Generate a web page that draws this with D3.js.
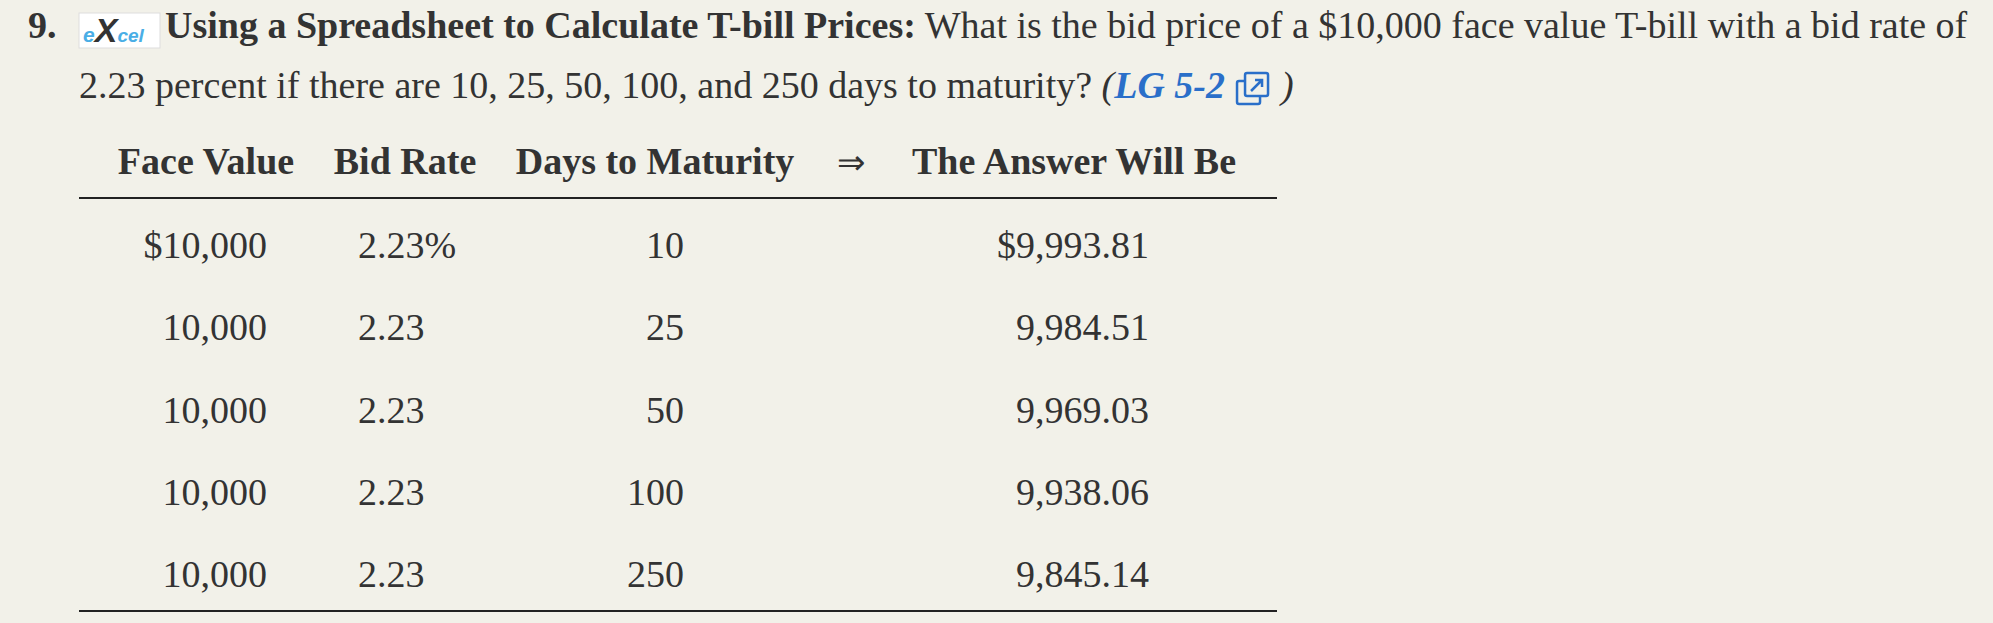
<!DOCTYPE html><html><head><meta charset="utf-8">
<script src="https://cdn.jsdelivr.net/npm/d3@7"></script>
<style>body{margin:0;background:#f2f1e9}svg{display:block}text{font-family:"Liberation Serif","Times New Roman",serif;fill:#333}</style></head><body>
<script>
const headers=["Face Value","Bid Rate","Days to Maturity","⇒","The Answer Will Be"];
const faceValues=["$10,000","10,000","10,000","10,000","10,000"];
const bidRates=["2.23%","2.23","2.23","2.23","2.23"];
const days=["10","25","50","100","250"];
const answers=["$9,993.81","9,984.51","9,969.03","9,938.06","9,845.14"];
const W=1993,H=623,FS=38;
const svg=d3.select("body").append("svg").attr("width",W).attr("height",H);
svg.append("rect").attr("width",W).attr("height",H).attr("fill","#f2f1e9");
svg.append("text").attr("x",28).attr("y",38).attr("font-size",FS).attr("font-weight","bold").text("9.");
const ic=svg.append("g").attr("transform","translate(79,13)");
ic.append("rect").attr("width",81).attr("height",35).attr("fill","#fff").attr("stroke","#ddd");
const it=ic.append("text").attr("x",4).attr("y",29).style("font-family","'Liberation Sans',Arial,sans-serif").attr("font-style","italic").attr("font-weight","bold");
it.append("tspan").attr("font-size",21).style("fill","#4aaee6").text("e");
it.append("tspan").attr("font-size",34).style("fill","#333").text("X");
it.append("tspan").attr("font-size",19).style("fill","#4aaee6").text("cel");
const t1=svg.append("text").attr("x",165).attr("y",38).attr("font-size",FS);
t1.append("tspan").attr("font-weight","bold").text("Using a Spreadsheet to Calculate T-bill Prices:");
t1.append("tspan").text(" What is the bid price of a $10,000 face value T-bill with a bid rate of");
const t2=svg.append("text").attr("x",79).attr("y",98).attr("font-size",FS);
t2.append("tspan").text("2.23 percent if there are 10, 25, 50, 100, and 250 days to maturity? ");
t2.append("tspan").attr("font-style","italic").text("(");
t2.append("tspan").attr("font-weight","bold").attr("font-style","italic").style("fill","#2a6fc9").text("LG 5-2");
t2.append("tspan").attr("dx",56).attr("font-style","italic").text(")");
const lgEnd=79+t2.node().getSubStringLength(0,t2.text().length-1);
const lk=svg.append("g").attr("transform",`translate(${lgEnd+12},72)`).attr("fill","none").attr("stroke","#2a6fc9").attr("stroke-width",2.5);
lk.append("rect").attr("x",0).attr("y",9).attr("width",23).attr("height",23).attr("rx",2);
lk.append("rect").attr("x",8).attr("y",1).attr("width",23).attr("height",23).attr("rx",2).attr("fill","#f2f1e9");
lk.append("path").attr("d","M14 19 L25 8 M18 8 L25 8 L25 15");
const hx=[206,405,655,851,1074];
svg.selectAll(".h").data(headers).join("text").attr("x",(d,i)=>hx[i]).attr("y",174).attr("text-anchor","middle").attr("font-weight",(d,i)=>i==3?"normal":"bold").attr("font-size",(d,i)=>i==3?34:FS).text(d=>d);
const y=d3.scalePoint().domain(d3.range(5)).range([258,587]);
[198,611].forEach(v=>svg.append("line").attr("x1",79).attr("x2",1277).attr("y1",v).attr("y2",v).attr("stroke","#222").attr("stroke-width",2));
const col=(arr,x,anchor)=>svg.append("g").selectAll("text").data(arr).join("text").attr("x",x).attr("y",(d,i)=>y(i)).attr("text-anchor",anchor).attr("font-size",FS).text(d=>d);
col(faceValues,267,"end");col(bidRates,358,"start");col(days,684,"end");col(answers,1149,"end");
</script></body></html>
